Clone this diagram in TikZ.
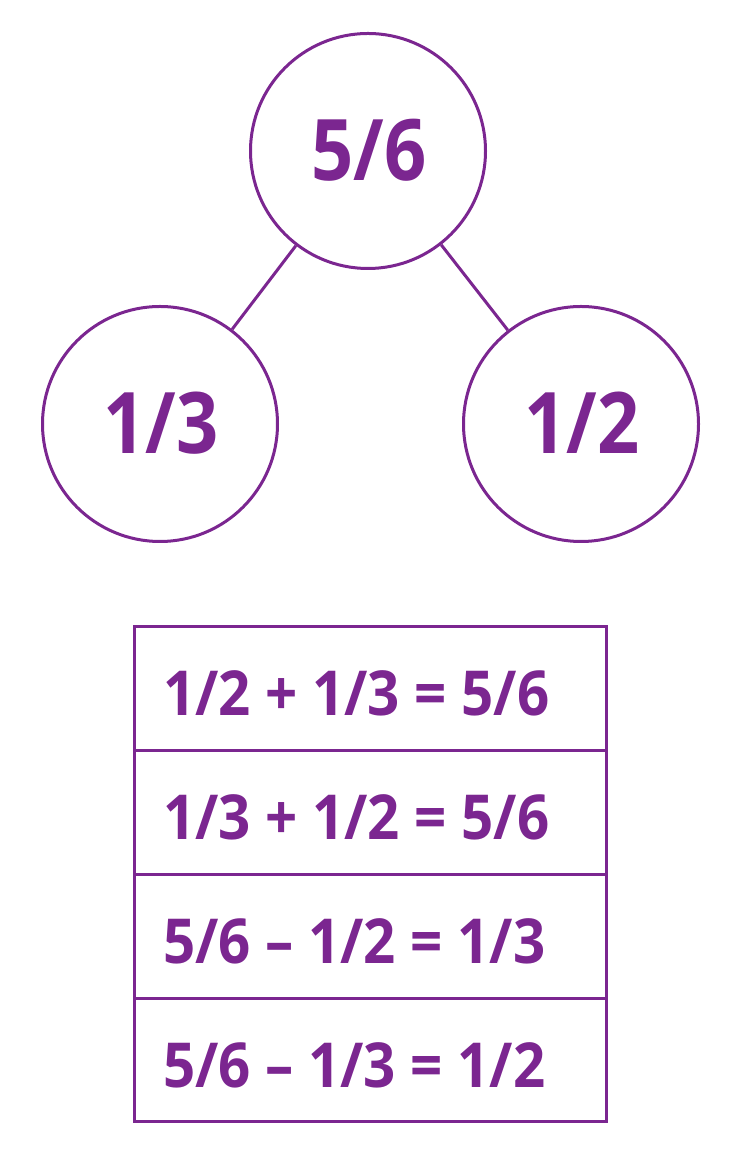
\documentclass[tikz,border=0pt]{standalone}
\usepackage{fontspec}
\setmainfont{Open Sans}
\definecolor{purp}{HTML}{7B2690}
\newcommand{\hsq}[2]{\scalebox{#1}[1]{#2}}
\begin{document}
\begin{tikzpicture}[x=1pt,y=1pt,
  circ/.style={circle,draw=purp,line width=3pt,minimum size=235pt,inner sep=0pt},
  conn/.style={draw=purp,line width=3pt},
  cell/.style={draw=purp,line width=3pt},
  bigtxt/.style={text=purp,font=\fontsize{85}{85}\selectfont\bfseries,inner sep=0pt,anchor=base},
  eqtxt/.style={text=purp,font=\fontsize{62}{62}\selectfont\bfseries,inner sep=0pt,anchor=base west}]
\useasboundingbox (0,0) rectangle (744,1160);
\node[circ] (top) at (368,1009) {};
\node[circ] (left) at (160,736) {};
\node[circ] (right) at (581,736) {};
\draw[conn] (top) -- (left);
\draw[conn] (top) -- (right);
\node[bigtxt] (ttop) at (369,979) {\hsq{0.87}{5/6}};
\node[bigtxt] (tleft) at (161,706) {\hsq{0.87}{1/3}};
\node[bigtxt] (tright) at (582,706) {\hsq{0.87}{1/2}};
\draw[cell] (134,533) rectangle (606,38);
\draw[cell] (134,409) -- (606,409);
\draw[cell] (134,285) -- (606,285);
\draw[cell] (134,161) -- (606,161);
\node[eqtxt] (e1) at (163,444) {\hsq{0.91}{1/2 + 1/3 = 5/6}};
\node[eqtxt] (e2) at (163,320) {\hsq{0.91}{1/3 + 1/2 = 5/6}};
\node[eqtxt] (e3) at (163,196) {\hsq{0.91}{5/6 – 1/2 = 1/3}};
\node[eqtxt] (e4) at (163,72) {\hsq{0.91}{5/6 – 1/3 = 1/2}};
\end{tikzpicture}
\end{document}
